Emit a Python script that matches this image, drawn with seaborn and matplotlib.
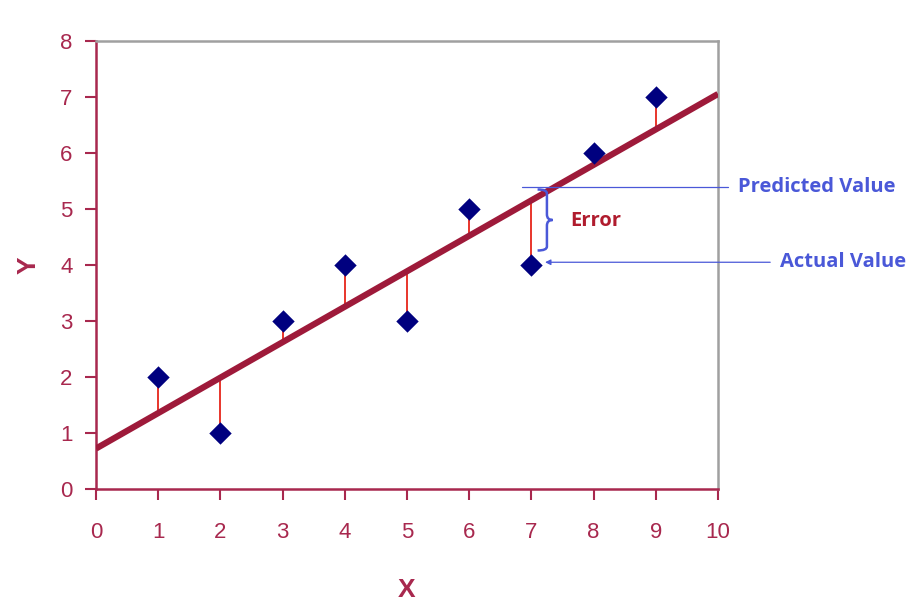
import numpy as np
import matplotlib.pyplot as plt
import seaborn as sns
from matplotlib.path import Path
from matplotlib.patches import PathPatch

sns.set_theme(style="white")
plt.rcParams["font.family"] = ["Liberation Sans", "DejaVu Sans"]

x_vals = [1, 2, 3, 4, 5, 6, 7, 8, 9]
y_vals = [2, 1, 3, 4, 3, 5, 4, 6, 7]
x_ticks = [0, 1, 2, 3, 4, 5, 6, 7, 8, 9, 10]
y_ticks = [0, 1, 2, 3, 4, 5, 6, 7, 8]

axis_col = "#A8284E"
line_col = "#9E1A3A"
point_col = "#00007F"
resid_col = "#E8352B"
note_col = "#4A58D8"

slope, intercept = np.polyfit(x_vals, y_vals, 1)
fitted = [intercept + slope * v for v in x_vals]

fig = plt.figure(figsize=(9.16, 6.11), dpi=100)
ax = fig.add_axes([0.1048, 0.1997, 0.679, 0.733])

# residual lines
ax.vlines(x_vals, y_vals, fitted, color=resid_col, lw=1.4, zorder=2)
# regression line
line_x = np.array([0, 10])
ax.plot(line_x, intercept + slope * line_x, color=line_col, lw=4.5, zorder=3,
        solid_capstyle="butt")
sns.scatterplot(x=x_vals, y=y_vals, marker="D", s=130, color=point_col,
                edgecolor=point_col, linewidth=0, zorder=4, ax=ax)

ax.set_xlim(0, 10)
ax.set_ylim(0, 8)
ax.set_xticks(x_ticks)
ax.set_yticks(y_ticks)
ax.tick_params(axis="both", direction="out", length=8, width=1.5, color=axis_col,
               labelcolor=axis_col, labelsize=16)
ax.tick_params(axis="x", pad=16)
ax.tick_params(axis="y", pad=9)
ax.xaxis.set_ticks_position("bottom")
ax.yaxis.set_ticks_position("left")
for s in ["left", "bottom"]:
    ax.spines[s].set_color(axis_col)
    ax.spines[s].set_linewidth(1.8)
for s in ["top", "right"]:
    ax.spines[s].set_color("#A0A0A0")
    ax.spines[s].set_linewidth(1.8)

ax.set_xlabel("X", color=axis_col, fontsize=19, fontweight="bold", labelpad=25)
ax.set_ylabel("Y", color=axis_col, fontsize=19, fontweight="bold", labelpad=14)

# annotation: predicted / actual value pointers
ax.plot([6.85, 10.16], [5.39, 5.39], color=note_col, lw=0.9, clip_on=False, zorder=5)
ax.annotate("", xy=(7.22, 4.05), xytext=(10.84, 4.05),
            arrowprops=dict(arrowstyle="-|>", color=note_col, lw=0.9,
                            mutation_scale=8, shrinkA=0, shrinkB=0),
            annotation_clip=False)
note_font = ["Open Sans", "DejaVu Sans"]
ax.text(10.32, 5.39, "Predicted Value", color=note_col, fontsize=14.5,
        fontweight="bold", family=note_font, va="center", clip_on=False)
ax.text(11.0, 4.05, "Actual Value", color=note_col, fontsize=14.5,
        fontweight="bold", family=note_font, va="center", clip_on=False)
ax.text(7.62, 4.78, "Error", color="#B01C2E", fontsize=14.5,
        fontweight="bold", family=note_font, va="center")

# curly brace
bx, top, bot = 7.1, 5.35, 4.26
mid = (top + bot) / 2
verts = [(bx, top), (bx + 0.15, top), (bx + 0.15, top - 0.07), (bx + 0.15, mid + 0.1),
         (bx + 0.15, mid), (bx + 0.24, mid), (bx + 0.15, mid), (bx + 0.15, mid - 0.1),
         (bx + 0.15, bot + 0.07), (bx + 0.15, bot), (bx, bot)]
codes = [Path.MOVETO, Path.CURVE3, Path.CURVE3, Path.LINETO, Path.CURVE3, Path.CURVE3,
         Path.CURVE3, Path.CURVE3, Path.LINETO, Path.CURVE3, Path.CURVE3]
ax.add_patch(PathPatch(Path(verts, codes), fill=False, edgecolor=note_col, lw=1.8, zorder=5))

fig.savefig("out.png", dpi=100)
